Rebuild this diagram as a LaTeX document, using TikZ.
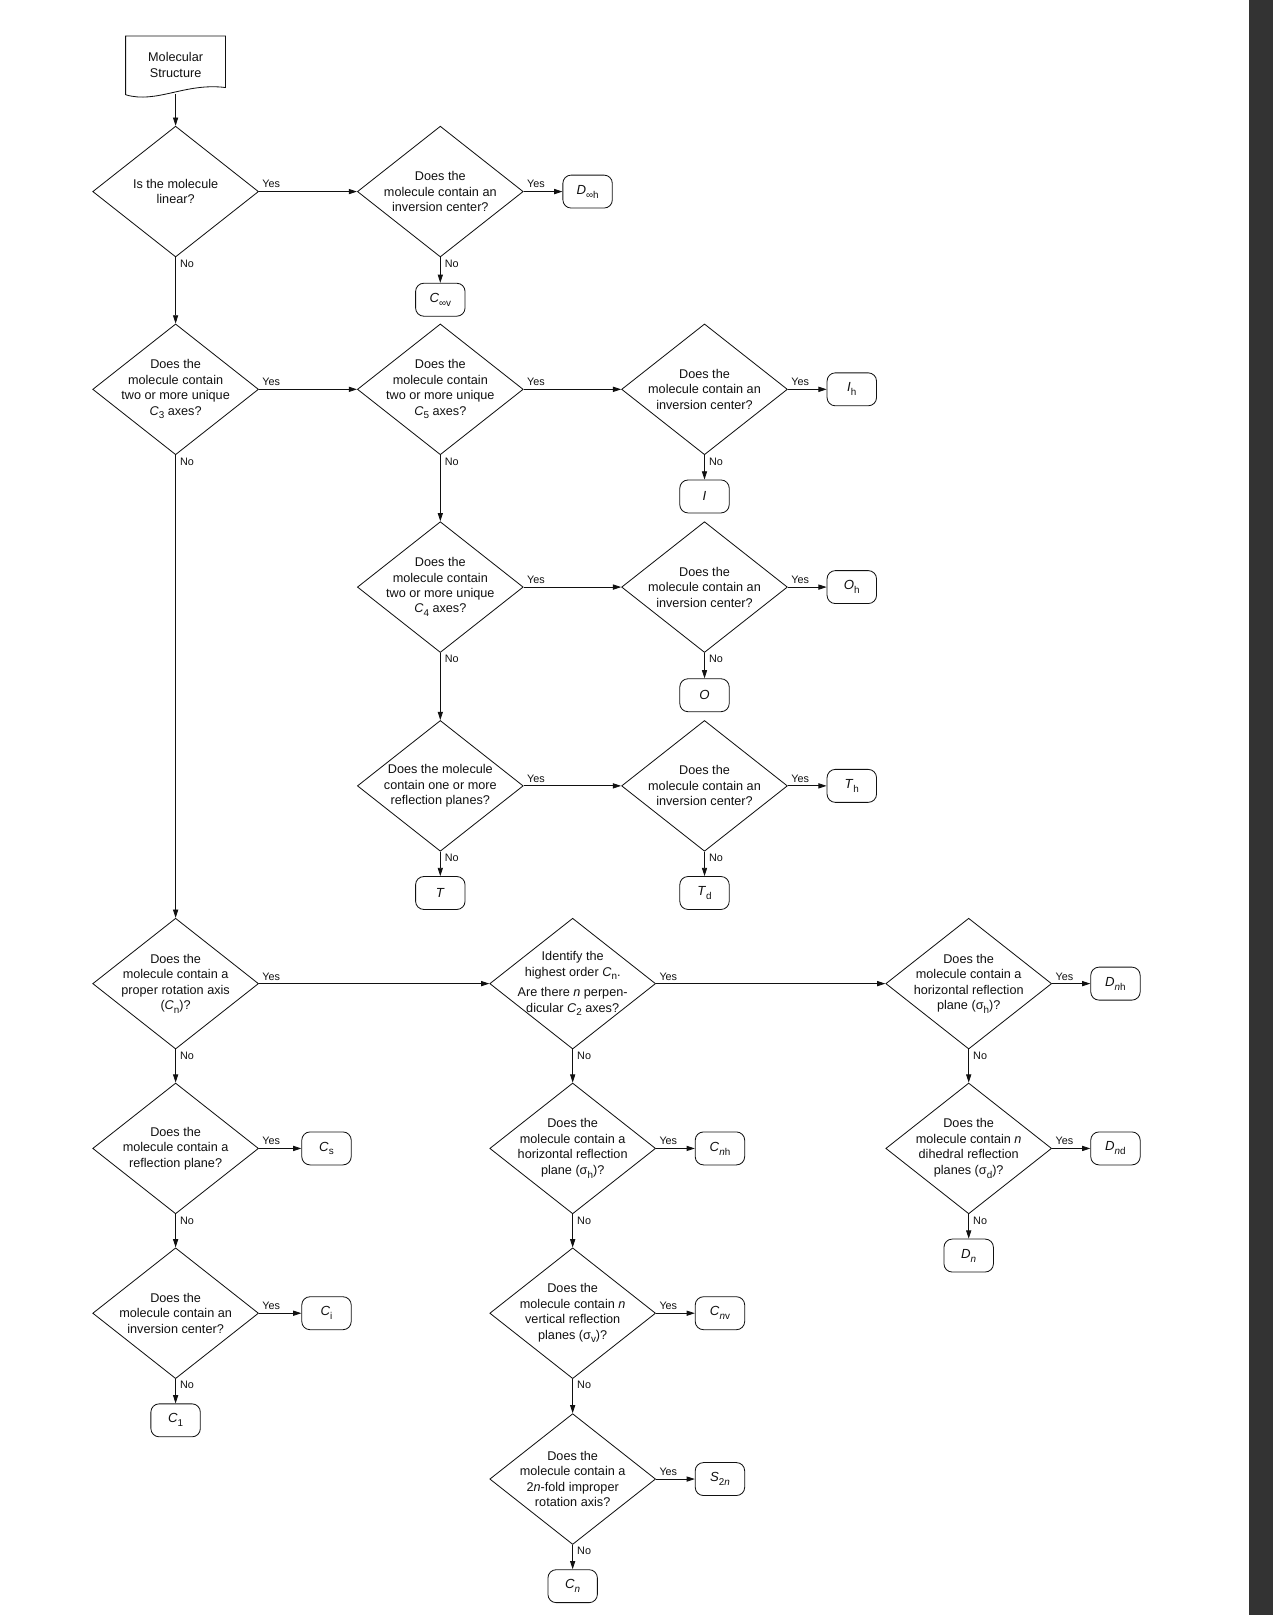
\documentclass[tikz,border=0pt]{standalone}
\usepackage{fontspec}
\setmainfont{Liberation Sans}
\usetikzlibrary{shapes.geometric,arrows.meta}
\definecolor{barc}{HTML}{333333}
\definecolor{ink}{HTML}{111111}
\newcommand\sbs[1]{\raisebox{-0.3em}{\fontsize{9.6}{10}\selectfont #1}}
\newcommand\ptgrp[2]{\textit{#1}\sbs{#2}}
\begin{document}
\begin{tikzpicture}[x=1pt,y=-1pt,
  line width=0.8pt, draw=ink,
  dia/.style={diamond, draw=ink, inner sep=0pt, minimum width=161pt, minimum height=127pt},
  qtxt/.style={font=\fontsize{12.3}{15}\selectfont, align=center, inner sep=0pt, text=ink},
  term/.style={draw=ink, rounded corners=8pt, minimum width=48pt, minimum height=32pt, inner sep=0pt, font=\fontsize{12.8}{15}\selectfont, text=ink},
  arr/.style={draw=ink, -{Triangle[length=8pt,width=5pt]}},
  yeslab/.style={anchor=south west, inner sep=3pt, font=\fontsize{10.5}{12}\selectfont, text=ink},
  nolab/.style={anchor=north west, inner sep=2pt, xshift=2pt, font=\fontsize{10.5}{12}\selectfont, text=ink},
]
\useasboundingbox (0,0) rectangle (1236,1568);
\fill[white] (0,0) rectangle (1236,1568);
\fill[barc] (1213,0) rectangle (1236,1568);

% start document shape
\node[qtxt, minimum width=97pt, minimum height=56pt] (ms) at (170.5,63) {Molecular\\Structure};
\draw[ink] (122,92) -- (122,35) -- (219,35) -- (219,85) .. controls (180,80) and (152,101) .. (122,92);

% column A
\node[dia, label={[qtxt]center:{Is the molecule\\linear?}}] (q1) at (170.5,186) {};
\node[dia, label={[qtxt]center:{Does the\\molecule contain\\two or more unique\\\textit{C}\sbs{3} axes?}}] (q2) at (170.5,378) {};
\node[dia, label={[qtxt]center:{Does the\\molecule contain a\\proper rotation axis\\(\textit{C}\sbs{n})?}}] (q5) at (170.5,955) {};
\node[dia, label={[qtxt]center:{Does the\\molecule contain a\\reflection plane?}}] (q6) at (170.5,1115) {};
\node[dia, label={[qtxt]center:{Does the\\molecule contain an\\inversion center?}}] (q7) at (170.5,1275) {};
\node[term] (C1) at (170.5,1379) {\ptgrp{C}{1}};
\node[term] (Cs) at (317,1115) {\ptgrp{C}{s}};
\node[term] (Ci) at (317,1275) {\ptgrp{C}{i}};

% column B
\node[dia, label={[qtxt]center:{Does the\\molecule contain an\\inversion center?}}] (q1b) at (427.5,186) {};
\node[term] (Dinfh) at (570.5,186) {\ptgrp{D}{∞h}};
\node[term] (Cinfv) at (427.5,291) {\ptgrp{C}{∞v}};
\node[dia, label={[qtxt]center:{Does the\\molecule contain\\two or more unique\\\textit{C}\sbs{5} axes?}}] (q2b) at (427.5,378) {};
\node[dia, label={[qtxt]center:{Does the\\molecule contain\\two or more unique\\\textit{C}\sbs{4} axes?}}] (q3b) at (427.5,570) {};
\node[dia, label={[qtxt]center:{Does the molecule\\contain one or more\\reflection planes?}}] (q4b) at (427.5,763) {};
\node[term] (T) at (427.5,867) {\textit{T}};

% column C
\node[dia, label={[qtxt]center:{Does the\\molecule contain an\\inversion center?}}] (q2c) at (684,378) {};
\node[term] (Ih) at (827,378) {\ptgrp{I}{h}};
\node[term] (I) at (684,482) {\textit{I}};
\node[dia, label={[qtxt]center:{Does the\\molecule contain an\\inversion center?}}] (q3c) at (684,570) {};
\node[term] (Oh) at (827,570) {\ptgrp{O}{h}};
\node[term] (O) at (684,675) {\textit{O}};
\node[dia, label={[qtxt]center:{Does the\\molecule contain an\\inversion center?}}] (q4c) at (684,763) {};
\node[term] (Th) at (827,763) {\ptgrp{T}{h}};
\node[term] (Td) at (684,867) {\ptgrp{T}{d}};

% bottom middle column
\node[dia, label={[qtxt]center:{Identify the\\highest order \textit{C}\sbs{n}.\\[5pt]Are there \textit{n} perpen-\\dicular \textit{C}\sbs{2} axes?}}] (q5m) at (556,955) {};
\node[dia, label={[qtxt]center:{Does the\\molecule contain a\\horizontal reflection\\plane (σ\sbs{h})?}}] (q6m) at (556,1115) {};
\node[term] (Cnh) at (699,1115) {\ptgrp{C}{\textit{n}h}};
\node[dia, label={[qtxt]center:{Does the\\molecule contain \textit{n}\\vertical reflection\\planes (σ\sbs{v})?}}] (q7m) at (556,1275) {};
\node[term] (Cnv) at (699,1275) {\ptgrp{C}{\textit{n}v}};
\node[dia, label={[qtxt]center:{Does the\\molecule contain a\\2\textit{n}-fold improper\\rotation axis?}}] (q8m) at (556,1436) {};
\node[term] (S2n) at (699,1436) {\ptgrp{S}{2\textit{n}}};
\node[term] (Cn) at (556,1540) {\ptgrp{C}{\textit{n}}};

% right column
\node[dia, label={[qtxt]center:{Does the\\molecule contain a\\horizontal reflection\\plane (σ\sbs{h})?}}] (q5r) at (940.5,955) {};
\node[term] (Dnh) at (1083,955) {\ptgrp{D}{\textit{n}h}};
\node[dia, label={[qtxt]center:{Does the\\molecule contain \textit{n}\\dihedral reflection\\planes (σ\sbs{d})?}}] (q6r) at (940.5,1115) {};
\node[term] (Dnd) at (1083,1115) {\ptgrp{D}{\textit{n}d}};
\node[term] (Dn) at (940.5,1219) {\ptgrp{D}{\textit{n}}};

% connectors
\draw[arr] (ms.south) -- (q1.north);
\draw[arr] (q1.east) -- node[yeslab,pos=0]{Yes} (q1b.west);
\draw[arr] (q1b.east) -- node[yeslab,pos=0]{Yes} (Dinfh.west);
\draw[arr] (q1b.south) -- node[nolab,pos=0]{No} (Cinfv.north);
\draw[arr] (q1.south) -- node[nolab,pos=0]{No} (q2.north);
\draw[arr] (q2.east) -- node[yeslab,pos=0]{Yes} (q2b.west);
\draw[arr] (q2b.east) -- node[yeslab,pos=0]{Yes} (q2c.west);
\draw[arr] (q2c.east) -- node[yeslab,pos=0]{Yes} (Ih.west);
\draw[arr] (q2c.south) -- node[nolab,pos=0]{No} (I.north);
\draw[arr] (q2b.south) -- node[nolab,pos=0]{No} (q3b.north);
\draw[arr] (q3b.east) -- node[yeslab,pos=0]{Yes} (q3c.west);
\draw[arr] (q3c.east) -- node[yeslab,pos=0]{Yes} (Oh.west);
\draw[arr] (q3c.south) -- node[nolab,pos=0]{No} (O.north);
\draw[arr] (q3b.south) -- node[nolab,pos=0]{No} (q4b.north);
\draw[arr] (q4b.east) -- node[yeslab,pos=0]{Yes} (q4c.west);
\draw[arr] (q4c.east) -- node[yeslab,pos=0]{Yes} (Th.west);
\draw[arr] (q4c.south) -- node[nolab,pos=0]{No} (Td.north);
\draw[arr] (q4b.south) -- node[nolab,pos=0]{No} (T.north);
\draw[arr] (q2.south) -- node[nolab,pos=0]{No} (q5.north);
\draw[arr] (q5.east) -- node[yeslab,pos=0]{Yes} (q5m.west);
\draw[arr] (q5m.east) -- node[yeslab,pos=0]{Yes} (q5r.west);
\draw[arr] (q5r.east) -- node[yeslab,pos=0]{Yes} (Dnh.west);
\draw[arr] (q5r.south) -- node[nolab,pos=0]{No} (q6r.north);
\draw[arr] (q6r.east) -- node[yeslab,pos=0]{Yes} (Dnd.west);
\draw[arr] (q6r.south) -- node[nolab,pos=0]{No} (Dn.north);
\draw[arr] (q5m.south) -- node[nolab,pos=0]{No} (q6m.north);
\draw[arr] (q6m.east) -- node[yeslab,pos=0]{Yes} (Cnh.west);
\draw[arr] (q6m.south) -- node[nolab,pos=0]{No} (q7m.north);
\draw[arr] (q7m.east) -- node[yeslab,pos=0]{Yes} (Cnv.west);
\draw[arr] (q7m.south) -- node[nolab,pos=0]{No} (q8m.north);
\draw[arr] (q8m.east) -- node[yeslab,pos=0]{Yes} (S2n.west);
\draw[arr] (q8m.south) -- node[nolab,pos=0]{No} (Cn.north);
\draw[arr] (q5.south) -- node[nolab,pos=0]{No} (q6.north);
\draw[arr] (q6.east) -- node[yeslab,pos=0]{Yes} (Cs.west);
\draw[arr] (q6.south) -- node[nolab,pos=0]{No} (q7.north);
\draw[arr] (q7.east) -- node[yeslab,pos=0]{Yes} (Ci.west);
\draw[arr] (q7.south) -- node[nolab,pos=0]{No} (C1.north);
\end{tikzpicture}
\end{document}
